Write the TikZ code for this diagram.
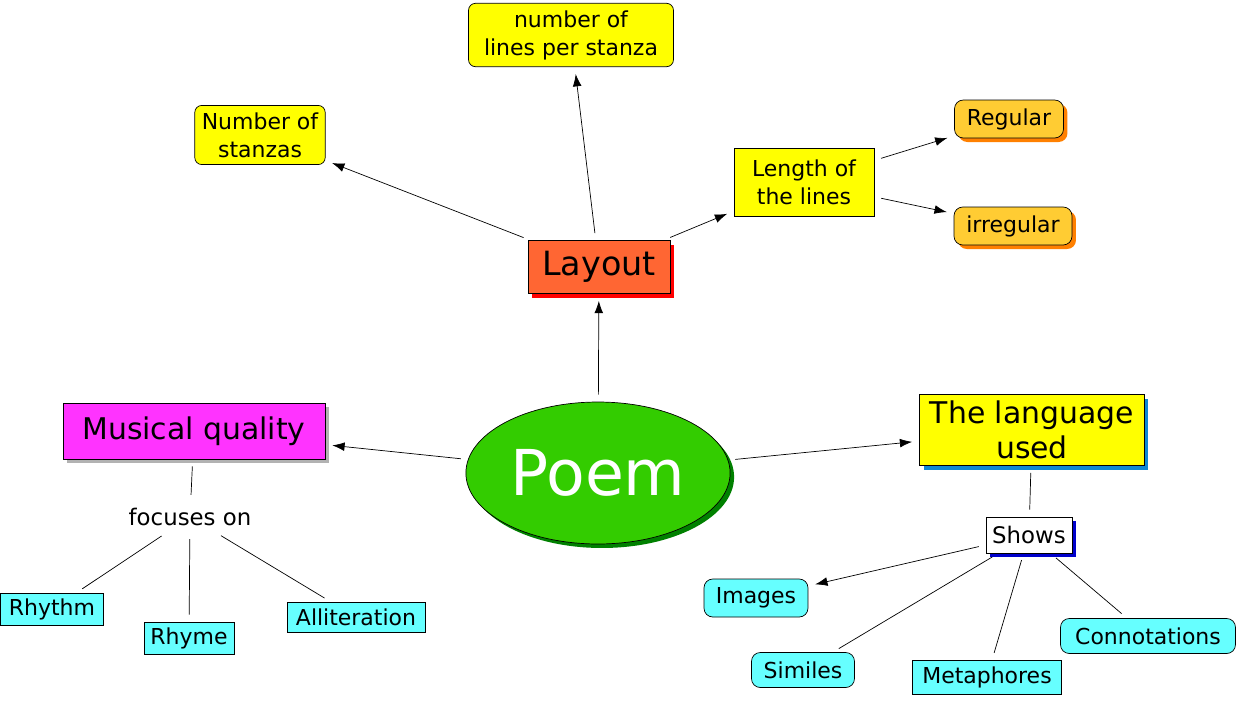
\documentclass[tikz,border=0pt]{standalone}
\usepackage{fontspec}
\setmainfont{DejaVu Sans}
\usetikzlibrary{arrows.meta,positioning,shapes.geometric,shadows}
\definecolor{poemgreen}{HTML}{33CC00}
\definecolor{layoutorange}{HTML}{FF6633}
\definecolor{boxyellow}{HTML}{FFFF00}
\definecolor{boxgold}{HTML}{FFCC33}
\definecolor{boxcyan}{HTML}{66FFFF}
\definecolor{boxmagenta}{HTML}{FF33FF}
\tikzset{
  sh/.style={drop shadow={shadow xshift=0.08cm,shadow yshift=-0.08cm,fill=#1,opacity=1}},
  ybox/.style={draw,fill=boxyellow,rounded corners=4pt,align=center,font=\fontsize{12.5}{16}\selectfont,inner sep=4pt},
  gbox/.style={draw,fill=boxgold,rounded corners=5pt,font=\fontsize{12.5}{15}\selectfont,minimum height=0.76cm,sh=orange},
  cbox/.style={draw,fill=boxcyan,font=\fontsize{12.5}{15}\selectfont,minimum height=0.6cm,inner sep=3pt},
  link/.style={shorten >=4pt,shorten <=4pt},
  arr/.style={link,-{Latex[length=7pt,width=5pt]}}
}
\begin{document}
\begin{tikzpicture}[x=0.02cm,y=-0.02cm]
    \useasboundingbox (0,0) rectangle (1242,701);
    \node[ellipse,draw,fill=poemgreen,minimum width=5.16cm,minimum height=2.84cm,text=white,font=\fontsize{36}{40}\selectfont,drop shadow={shadow xshift=0.08cm,shadow yshift=-0.08cm,fill=green!50!black,opacity=1}] (poem) at (598,473) {Poem};
    \node[draw,fill=layoutorange,minimum width=2.84cm,minimum height=1.06cm,font=\fontsize{19}{22}\selectfont,sh=red] (layout) at (599,267) {Layout};
    \node[ybox] (stanzas) at (260,135) {Number of\\stanzas};
    \node[ybox,minimum width=4.1cm] (perstanza) at (571,35) {number of\\lines per stanza};
    \node[ybox,rounded corners=0pt,minimum width=2.8cm,minimum height=1.36cm] (length) at (804,182) {Length of\\the lines};
    \node[gbox,minimum width=2.18cm] (regular) at (1009,119) {Regular};
    \node[gbox,minimum width=2.36cm] (irregular) at (1013,226) {irregular};
    \node[draw,fill=boxmagenta,minimum width=5.24cm,minimum height=1.12cm,font=\fontsize{17}{20}\selectfont,sh=gray!60] (musical) at (194,431) {Musical quality};
    \node[font=\fontsize{13}{15}\selectfont] (focus) at (190,517) {focuses on};
    \node[cbox,minimum width=2.06cm] (rhythm) at (52,609) {Rhythm};
    \node[cbox,minimum width=1.8cm] (rhyme) at (189,638) {Rhyme};
    \node[cbox,minimum width=2.76cm] (allit) at (356,617) {Alliteration};
    \node[draw,fill=boxyellow,minimum width=4.5cm,minimum height=1.42cm,align=center,font=\fontsize{17}{20}\selectfont,sh=cyan!70!blue] (language) at (1032,430) {The language\\used};
    \node[draw,fill=white,minimum width=1.72cm,minimum height=0.72cm,font=\fontsize{13}{15}\selectfont,sh=blue!80!black] (shows) at (1029,535) {Shows};
    \node[cbox,rounded corners=5pt,minimum width=2.08cm,minimum height=0.76cm] (images) at (756,598) {Images};
    \node[cbox,rounded corners=5pt,minimum width=2.06cm,minimum height=0.7cm] (similes) at (803,670) {Similes};
    \node[cbox,minimum width=2.98cm,minimum height=0.68cm] (metaph) at (987,677) {Metaphores};
    \node[cbox,rounded corners=5pt,minimum width=3.5cm,minimum height=0.7cm] (connot) at (1148,636) {Connotations};

    \draw[arr] (poem) -- (layout);
    \draw[arr] (layout) -- (stanzas);
    \draw[arr] (layout) -- (perstanza);
    \draw[arr] (layout) -- (length);
    \draw[arr] (length) -- (regular);
    \draw[arr] (length) -- (irregular);
    \draw[arr] (poem) -- (musical);
    \draw[arr] (poem) -- (language);
    \draw[link] (musical) -- (focus);
    \draw[link] (focus) -- (rhythm);
    \draw[link] (focus) -- (rhyme);
    \draw[link] (focus) -- (allit);
    \draw[link] (language) -- (shows);
    \draw[arr] (shows) -- (images);
    \draw[link] (shows) -- (similes);
    \draw[link] (shows) -- (metaph);
    \draw[link] (shows) -- (connot);
\end{tikzpicture}
\end{document}
